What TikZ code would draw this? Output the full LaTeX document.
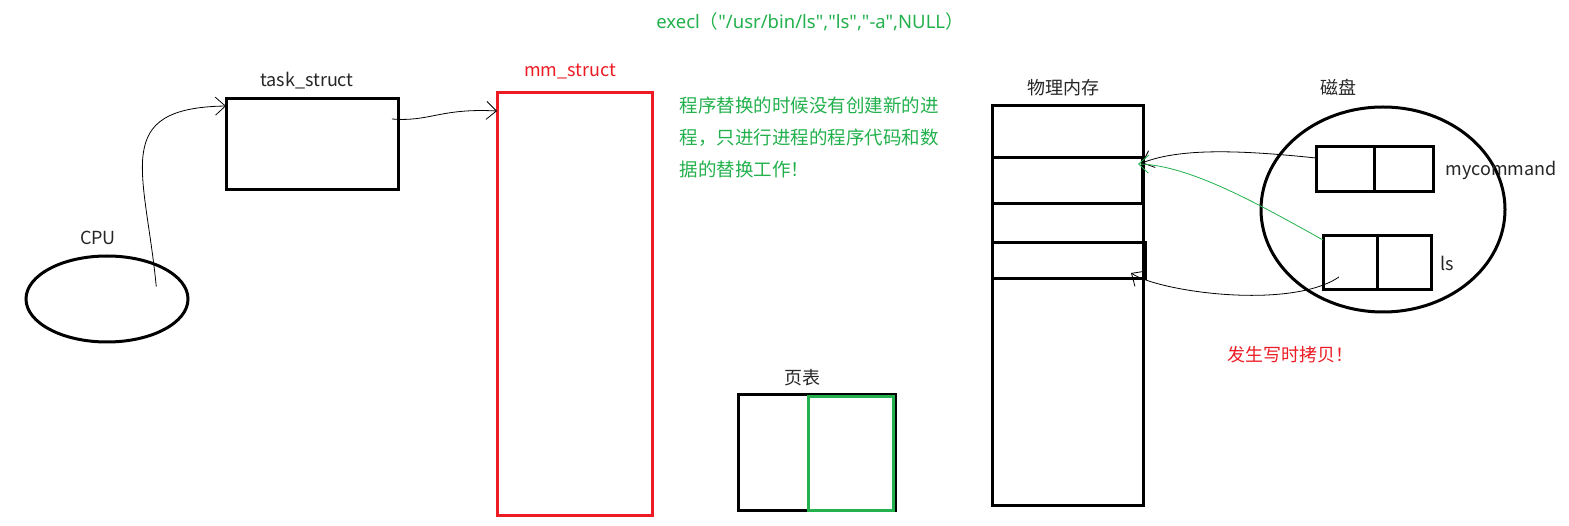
\documentclass[tikz,border=0pt]{standalone}
\usepackage{fontspec}
\setmainfont{Noto Sans CJK SC}
\newfontfamily\latinfont{Noto Sans}
\usetikzlibrary{arrows.meta,shapes.geometric}
\definecolor{paintgreen}{HTML}{22B14C}
\definecolor{paintred}{HTML}{ED1C24}

\begin{document}
\begin{tikzpicture}[
        x=1pt,y=-1pt,
        lbl/.style={align=center,font=\fontsize{18}{22}\selectfont,text=black!85},
        box/.style={draw,line width=3pt,inner sep=0pt,outer sep=0pt},
        hand/.style={-{Straight Barb[length=10pt,width=18pt]},line width=.8pt}
      ]
        \useasboundingbox[fill=white] (0,0) rectangle (1569,526);
        \node[lbl,font=\fontsize{18.5}{22}\selectfont,text=paintgreen] (call) at (810,22)
          {{\latinfont execl}（{\latinfont "/usr/bin/ls","ls","-a",NULL}）};
        \node[box,ellipse,minimum width=162pt,minimum height=86pt] (cpu) at (107,299) {};
        \node[lbl] (cpulbl) at (98,238) {CPU};
        \node[box,minimum width=172pt,minimum height=91pt] (task) at (312,144.5) {};
        \node[lbl] (tasklbl) at (307,81) {task\_struct};
        \node[box,draw=paintred,minimum width=155pt,minimum height=422pt] (mm) at (574.5,304) {};
        \node[lbl,text=paintred] (mmlbl) at (570,72) {mm\_struct};
        \node[lbl,font=\fontsize{18.5}{32}\selectfont,text=paintgreen,align=left,anchor=north west]
          (note) at (676,93) {程序替换的时候没有创建新的进\\程，只进行进程的程序代码和数\\据的替换工作！};
        \node[box,minimum width=157pt,minimum height=115pt] (pagetab) at (816.5,452.5) {};
        \node[box,draw=paintgreen,minimum width=85pt,minimum height=113pt] (pagegreen) at (850.5,453.5) {};
        \node[lbl] (pagelbl) at (802,378) {页表};
        \node[box,minimum width=151pt,minimum height=399pt] (mem) at (1067.5,305.5) {};
        \node[box,minimum width=150pt,minimum height=46pt] (slot1) at (1067,181) {};
        \node[box,minimum width=153pt,minimum height=36pt] (slot2) at (1068.5,261) {};
        \node[lbl] (memlbl) at (1063,88) {物理内存};
        \node[box,ellipse,minimum width=244pt,minimum height=205pt] (disk) at (1383,209.5) {};
        \node[lbl] (disklbl) at (1338,87) {磁盘};
        \node[box,minimum width=117pt,minimum height=45pt] (mycmd) at (1374.5,169.5) {};
        \draw[box] (mycmd.north) -- (mycmd.south);
        \node[lbl,anchor=west] (mycmdlbl) at (1442,170) {mycommand};
        \node[box,minimum width=108pt,minimum height=54pt] (ls) at (1377,263) {};
        \draw[box] (ls.north) -- (ls.south);
        \node[lbl,anchor=west] (lslbl) at (1437,263) {ls};
        \node[lbl,text=paintred] (cowlbl) at (1290,355) {发生写时拷贝！};
        \coordinate (cpuout) at ([xshift=-8pt,yshift=-18pt]cpu.north east);
        \draw[hand] (cpuout) .. controls (145,170) and (110,108) .. ([yshift=-7pt]task.north west);
        \draw[hand] ([xshift=-6pt,yshift=-20pt]task.north east) .. controls (430,122) and (440,108)
          .. ([yshift=-18pt]mm.north west);
        \draw[hand] ([yshift=-11pt]mycmd.north west) .. controls (1240,150) and (1180,148)
          .. ([yshift=-5pt]slot1.north east);
        \draw[hand,draw=paintgreen] ([yshift=-4pt]ls.north west) .. controls (1260,205) and (1190,165)
          .. ([xshift=-4pt,yshift=-6pt]slot1.north east);
        \draw[hand] ([xshift=16pt,yshift=13pt]ls.south west) .. controls (1290,310) and (1160,292)
          .. ([xshift=-14pt,yshift=6pt]slot2.south east);
      \end{tikzpicture}
\end{document}
